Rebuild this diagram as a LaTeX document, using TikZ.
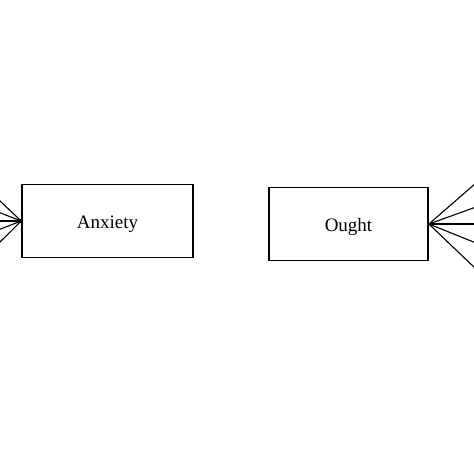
\documentclass[tikz,border=0pt]{standalone}
\usepackage{fontspec}
\setmainfont{Liberation Serif}
\begin{document}
\begin{tikzpicture}[x=1pt,y=-1pt,
  boxnode/.style={draw=black,line width=1.8pt,minimum width=#1,minimum height=73pt,inner sep=0pt,text height=15pt,text depth=0pt,font=\fontsize{19}{22}\selectfont},
  fan/.style={line width=1.1pt}]
\useasboundingbox (0,0) rectangle (474,474);
\fill[white] (0,0) rectangle (474,474);
\node[boxnode=171pt] (anx) at (107.5,221) {Anxiety};
\node[boxnode=159pt] (ought) at (348.5,224) {Ought};
\coordinate (la) at (anx.west);
\coordinate (ra) at (ought.east);
\fill (la) circle (2pt);
\fill (ra) circle (1.5pt);
\coordinate (l1) at (-2,199);
\coordinate (l2) at (-2,212);
\coordinate (l3) at (-2,221);
\coordinate (l4) at (-2,230);
\coordinate (l5) at (-2,244);
\foreach \p in {l1,l2,l3,l4,l5} \draw[fan] (la) -- (\p);
\coordinate (r1) at (476,183);
\coordinate (r2) at (476,207);
\coordinate (r3) at (476,224);
\coordinate (r4) at (476,243);
\coordinate (r5) at (476,269);
\foreach \p in {r1,r2,r3,r4,r5} \draw[fan] (ra) -- (\p);
\end{tikzpicture}
\end{document}
